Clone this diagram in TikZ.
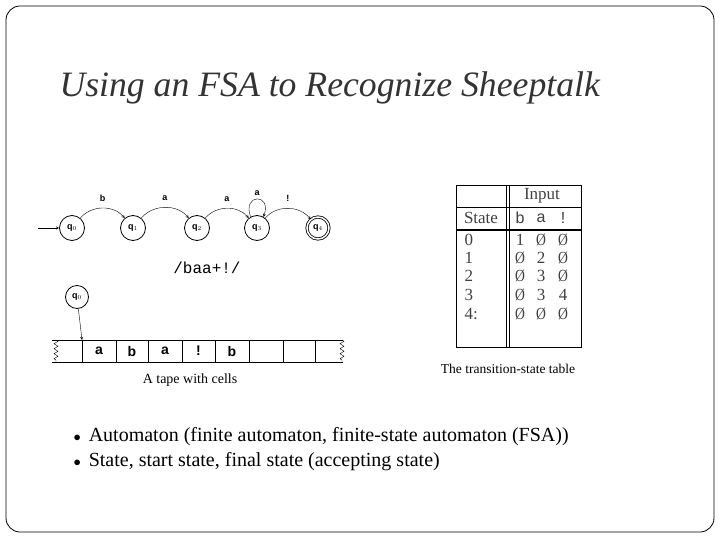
\documentclass[tikz,border=0pt]{standalone}
\usepackage{fontspec}
\setmainfont{Liberation Serif}
\newfontfamily\sansf{Liberation Sans}
\newfontfamily\monof{Liberation Mono}
\usetikzlibrary{decorations.pathmorphing}
\newcommand{\myz}{\scalebox{0.8}[1]{Ø}}
\begin{document}
\begin{tikzpicture}[x=1pt,y=-1pt,
 st/.style={circle,draw,thick,minimum size=25pt,inner sep=0pt,font=\sansf\bfseries\fontsize{9}{9}\selectfont},
 lab/.style={font=\sansf\bfseries\fontsize{9}{9}\selectfont},
 tr/.style={->,thin,>=stealth},
 cell/.style={font=\sansf\bfseries\fontsize{14}{14}\selectfont},
 tb/.style={font=\fontsize{17}{17}\selectfont,text=black!75}]
\useasboundingbox (0,0) rectangle (720,540);
\draw[thick,rounded corners=14pt] (6,6) rectangle (714,532);
\node[anchor=west,font=\itshape\fontsize{35.7}{35.7}\selectfont,text=black!80] (title) at (56,88) {Using an FSA to Recognize Sheeptalk};
% FSA
\node[st] (q0) at (72,228) {q$_0$};
\node[st] (q1) at (133,228) {q$_1$};
\node[st] (q2) at (197,228) {q$_2$};
\node[st] (q3) at (257,228) {q$_3$};
\node[st,double,double distance=1.5pt,minimum size=22pt] (q4) at (318,228) {q$_4$};
\coordinate (start) at (38,228);
\draw[tr] (start) -- (q0);
\draw[tr] (q0) to[out=50,in=130] node[lab,above=3pt]{b} (q1);
\draw[tr] (q1) to[out=50,in=130] node[lab,above=3pt]{a} (q2);
\draw[tr] (q2) to[out=50,in=130] node[lab,above=3pt]{a} (q3);
\draw[tr] (q3) to[out=50,in=130] node[lab,above=3pt]{!} (q4);
\draw[tr] (q3.120) to[out=110,in=70,looseness=5] node[lab,above]{a} (q3.60);
\node[font=\monof\fontsize{16}{16}\selectfont] (re) at (207,268) {/baa+!/};
% tape
\node[st,minimum size=23pt] (h) at (77,297) {q$_0$};
\coordinate (hp) at (82,340);
\draw[tr] (h) -- (hp);
\draw (52,340) -- (343,340) (52,362) -- (343,362);
\draw[decorate,decoration={zigzag,segment length=5pt,amplitude=2pt}] (56,340) -- (56,362);
\draw[decorate,decoration={zigzag,segment length=5pt,amplitude=2pt}] (342,340) -- (342,362);
\foreach \x in {82,116,148,182,215,249,283,315} \draw (\x,340) -- (\x,362);
\foreach \t/\x [count=\i] in {a/99,b/132,a/165,!/198.5,b/232} \node[cell] (c\i) at (\x,351) {\t};
\node[font=\fontsize{14}{14}\selectfont] (tcap) at (190,380) {A tape with cells};
% table
\draw[thick] (456,185) rectangle (581,347);
\draw (506,185) -- (506,347) (509,185) -- (509,347);
\draw (456,207) -- (581,207);
\draw[very thick] (456,230) -- (581,230);
\node[tb] (inp) at (542,196) {Input};
\node[tb] (stc) at (481,218) {State};
\foreach \t/\x [count=\i] in {b/520,a/541,!/563} \node[tb,font=\sansf\fontsize{16}{16}\selectfont] (h\i) at (\x,218) {\t};
\foreach \s/\b/\a/\e/\y [count=\i] in {0/1/0/0/240,1/0/2/0/258,2/0/3/0/276,3/0/3/4/295,4:/0/0/0/314}{
 \node[tb,anchor=west] (s\i) at (461,\y) {\s};
 \node[tb] (b\i) at (520,\y) {\ifnum\b=0 \myz\else\b\fi};
 \node[tb] (a\i) at (541,\y) {\ifnum\a=0 \myz\else\a\fi};
 \node[tb] (e\i) at (563,\y) {\ifnum\e=0 \myz\else\e\fi};
}
\node[font=\fontsize{13.5}{13.5}\selectfont] (tt) at (508,369) {The transition-state table};
% bullets
\node[anchor=west,font=\fontsize{20}{20}\selectfont] (b1) at (70,437) {\scalebox{0.7}{$\bullet$}\hspace{8pt}Automaton (finite automaton, finite-state automaton (FSA))};
\node[anchor=west,font=\fontsize{20}{20}\selectfont] (b2) at (70,462) {\scalebox{0.7}{$\bullet$}\hspace{8pt}State, start state, final state (accepting state)};
\end{tikzpicture}
\end{document}
